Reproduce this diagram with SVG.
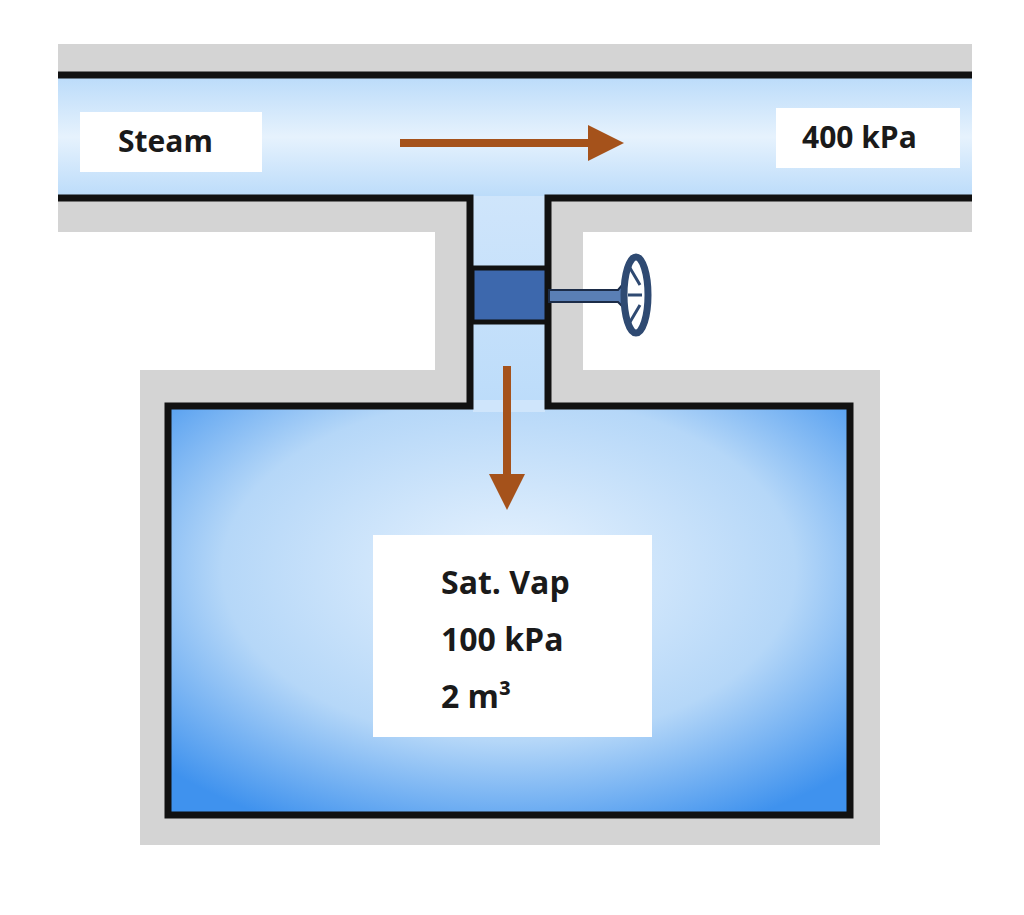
<svg xmlns="http://www.w3.org/2000/svg" width="1024" height="915" viewBox="0 0 1024 915">
<style>
.t{font-family:"Open Sans","Liberation Sans",sans-serif;font-weight:bold;font-size:30px;fill:#1a1a1a}
.b{font-size:32px}
.w{stroke:#111;stroke-width:7;fill:none}
.a{stroke:#a5521b;stroke-width:8;fill:none}
</style>
<defs>
<linearGradient id="pg" x1="0" y1="0" x2="0" y2="1"><stop offset="0" stop-color="#bcdcfa"/><stop offset="0.5" stop-color="#e6f2fd"/><stop offset="1" stop-color="#bcdcfa"/></linearGradient>
<radialGradient id="tg" cx="0.5" cy="0.4" r="0.7"><stop offset="0" stop-color="#e8f3fe"/><stop offset="0.6" stop-color="#b5d7f8"/><stop offset="1" stop-color="#3f92ee"/></radialGradient>
<linearGradient id="ng" x1="0" y1="0" x2="0" y2="1"><stop offset="0" stop-color="#cfe5fb"/><stop offset="1" stop-color="#bcdcfa"/></linearGradient>
<marker id="ah" viewBox="0 0 10 10" refX="5" refY="5" markerWidth="4.5" markerHeight="4.5" orient="auto"><path d="M0,0 L10,5 L0,10 z" fill="#a5521b"/></marker>
</defs>
<rect width="1024" height="915" fill="#fff"/>
<g id="walls" fill="#d4d4d4">
<rect x="58" y="44" width="914" height="188"/>
<rect x="435" y="200" width="148" height="180"/>
<rect x="140" y="370" width="740" height="475"/>
</g>
<g id="pipe">
<rect x="58" y="78" width="914" height="118" fill="url(#pg)"/>
<rect x="473" y="196" width="72" height="212" fill="url(#ng)"/>
<rect x="168" y="406" width="682" height="409" fill="url(#tg)"/>
<rect x="473" y="400" width="72" height="12" fill="#cfe5fb"/>
<line class="w" x1="58" y1="75" x2="972" y2="75"/>
<polyline class="w" points="58,198 470,198 470,406 168,406 168,815 850,815 850,406 548,406 548,198 972,198"/>
</g>
<g id="valve">
<rect x="472" y="268" width="75" height="54" fill="#3d68ad" stroke="#111" stroke-width="5"/>
<path d="M549,290 L618,290 L630,276 L630,314 L618,302 L549,302 z" fill="#5a7fb5" stroke="#1c2c48" stroke-width="2"/>
<ellipse cx="636" cy="295" rx="12" ry="38" fill="#fff" stroke="#2f4a72" stroke-width="7"/>
<path d="M630,268 L640,285 M630,322 L640,305 M628,295 L642,295" stroke="#2f4a72" stroke-width="3"/>
</g>
<g id="connectors">
<line class="a" x1="400" y1="143" x2="606" y2="143" marker-end="url(#ah)"/>
<line class="a" x1="507" y1="366" x2="507" y2="492" marker-end="url(#ah)"/>
</g>
<g id="steam"><rect x="80" y="112" width="182" height="60" fill="#fff"/><text class="t" x="118" y="152">Steam</text></g>
<g id="p400"><rect x="776" y="108" width="184" height="60" fill="#fff"/><text class="t" x="802" y="148">400 kPa</text></g>
<g id="state"><rect x="373" y="535" width="279" height="202" fill="#fff"/>
<text class="t b" x="441" y="594">Sat. Vap</text>
<text class="t b" x="441" y="651">100 kPa</text>
<text class="t b" x="441" y="708">2 m³</text></g>
</svg>
